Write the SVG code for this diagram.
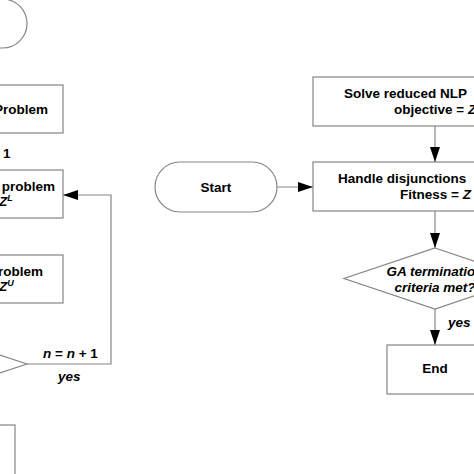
<svg xmlns="http://www.w3.org/2000/svg" width="474" height="474" viewBox="0 0 474 474">
<defs>
<style>
.sh{fill:#fff;stroke:#858585;stroke-width:1.2}
.ln{fill:none;stroke:#858585;stroke-width:1.2}
text{font-family:"Liberation Sans",Arial,sans-serif;font-size:13.5px;font-weight:bold;fill:#000}
.it{font-style:italic}
.c{text-anchor:middle}
.sup{font-size:9px}
</style>
<marker id="ah" markerWidth="15" markerHeight="10" refX="15" refY="5" orient="auto" markerUnits="userSpaceOnUse">
<path d="M0,0 L15,5 L0,10 Z" fill="#000"/>
</marker>
</defs>
<rect width="474" height="474" fill="#fff"/>
<g id="connectors">
<line class="ln" x1="277" y1="187" x2="313" y2="187" marker-end="url(#ah)"/>
<line class="ln" x1="435" y1="126" x2="435" y2="162" marker-end="url(#ah)"/>
<line class="ln" x1="435" y1="211" x2="435" y2="248" marker-end="url(#ah)"/>
<line class="ln" x1="435" y1="309" x2="435" y2="345" marker-end="url(#ah)"/>
<polyline class="ln" points="27,364 111,364 111,195 63,195" marker-end="url(#ah)"/>
<text x="448" y="327" class="it">yes</text>
<text x="43" y="358"><tspan class="it">n</tspan> = <tspan class="it">n</tspan> + 1</text>
<text x="58" y="381" class="it">yes</text>
<text x="3" y="158">1</text>
</g>
<g id="left-terminal">
<rect class="sh" x="-100" y="-1" width="127" height="49" rx="24.5"/>
</g>
<g id="left-box1">
<rect class="sh" x="-60" y="85" width="123" height="48"/>
<text x="48" y="114" text-anchor="end">Problem</text>
</g>
<g id="left-box2">
<rect class="sh" x="-60" y="170" width="123" height="48"/>
<text x="55" y="191" text-anchor="end">problem</text>
<text x="-1" y="206"><tspan class="it">Z</tspan><tspan class="sup it" dy="-5">L</tspan></text>
</g>
<g id="left-box3">
<rect class="sh" x="-60" y="255" width="123" height="48"/>
<text x="43" y="276" text-anchor="end">roblem</text>
<text x="-1" y="291"><tspan class="it">Z</tspan><tspan class="sup it" dy="-5">U</tspan></text>
</g>
<g id="left-diamond">
<polygon class="sh" points="-64,334 27,364 -64,394 -155,364"/>
</g>
<g id="left-bottom-box">
<rect class="sh" x="-100" y="425" width="115" height="60"/>
</g>
<g id="start">
<rect class="sh" x="155" y="162" width="122" height="50" rx="25"/>
<text x="216" y="192" class="c">Start</text>
</g>
<g id="solve">
<rect class="sh" x="313" y="77" width="250" height="49"/>
<text x="344" y="98">Solve reduced NLP</text>
<text x="394" y="114">objective = <tspan class="it">Z</tspan></text>
</g>
<g id="handle">
<rect class="sh" x="313" y="162" width="250" height="49"/>
<text x="338" y="183">Handle disjunctions</text>
<text x="400" y="199">Fitness = <tspan class="it">Z</tspan></text>
</g>
<g id="ga">
<polygon class="sh" points="435,248 526,278.5 435,309 344,278.5"/>
<text x="435" y="275.5" class="c it">GA termination</text>
<text x="435" y="291.5" class="c it">criteria met?</text>
</g>
<g id="end">
<rect class="sh" x="387" y="345" width="96" height="49"/>
<text x="435" y="373" class="c">End</text>
</g>
</svg>
